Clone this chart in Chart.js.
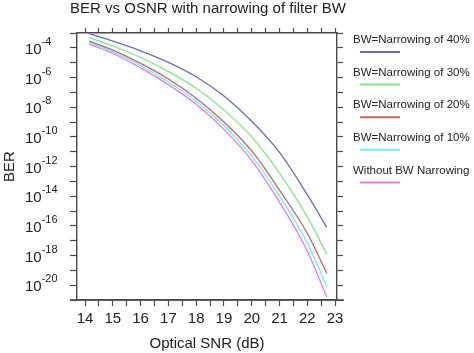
<!DOCTYPE html>
<html lang="en">
<head>
  <meta charset="UTF-8">
  <title>BER vs OSNR</title>
  <script src="https://cdn.jsdelivr.net/npm/chart.js@4.4.0/dist/chart.umd.min.js"></script>
  <style>
    html, body { margin: 0; padding: 0; background: #fff; }
    .chart-box { width: 474px; height: 353px; }
  </style>
</head>
<body>
  <div class="chart-box"><canvas id="berChart" width="474" height="353"></canvas></div>

  <script>
    // optical SNR (dB) sample points
    const osnr = [14.15, 15, 16, 17, 18, 19, 20, 21, 22, 22.7];

    // log10(BER)
    const logBer40 = [-3.05, -3.55, -4.2, -4.98, -5.95, -7.25, -8.95, -11.05, -13.9, -16.1];
    const logBer30 = [-3.3, -3.88, -4.65, -5.6, -6.72, -8.2, -10.0, -12.45, -15.4, -17.9];
    const logBer20 = [-3.55, -4.15, -5.05, -6.1, -7.4, -9.0, -10.95, -13.6, -16.5, -19.2];
    const logBer10 = [-3.65, -4.27, -5.2, -6.3, -7.6, -9.25, -11.3, -14.0, -17.15, -20.1];
    const logBer0  = [-3.75, -4.38, -5.35, -6.48, -7.8, -9.5, -11.6, -14.4, -17.7, -20.8];

    const seriesLabels = ['BW=Narrowing of 40%', 'BW=Narrowing of 30%', 'BW=Narrowing of 20%', 'BW=Narrowing of 10%', 'Without BW Narrowing'];
    const seriesColors = ['#6b6bbd', '#86e486', '#c46464', '#72f0ee', '#e27ee4'];

    const xTicks = [14, 15, 16, 17, 18, 19, 20, 21, 22, 23];
    const yTickExps = [-4, -6, -8, -10, -12, -14, -16, -18, -20];
    const yDecades = [-3, -4, -5, -6, -7, -8, -9, -10, -11, -12, -13, -14, -15, -16, -17, -18, -19, -20, -21];

    const FONT = "'Liberation Sans', Arial, sans-serif";
    const AXIS = '#4a4a4a';

    const xMarks = xTicks.flatMap((v, i) => i < xTicks.length - 1 ? [v, v + 0.5] : [v]);
    const logSeries = [logBer40, logBer30, logBer20, logBer10, logBer0];

    const datasets = logSeries.map((s, i) => ({
      label: seriesLabels[i],
      data: osnr.map((x, j) => ({ x: x, y: Math.pow(10, s[j]) })),
      borderColor: seriesColors[i],
      borderWidth: 1.3,
      pointRadius: 0,
      cubicInterpolationMode: 'monotone',
      fill: false
    }));

    const xRange = { min: 13.71, max: 23.07 };
    const yRange = { min: 1e-21, max: 1e-3 };

    const setXMarks = s => { s.ticks = xMarks.map(v => ({ value: v })); };
    const setYMarks = s => { s.ticks = yDecades.map(e => ({ value: Math.pow(10, e) })); };

    const decor = {
      id: 'decor',
      afterDraw(chart) {
        const ctx = chart.ctx;
        const ys = chart.scales.y;
        const area = chart.chartArea;
        ctx.save();

        // bottom axis line runs a little past the frame corners
        ctx.strokeStyle = AXIS;
        ctx.lineWidth = 1.4;
        ctx.beginPath();
        ctx.moveTo(area.left - 7, area.bottom);
        ctx.lineTo(area.right + 7, area.bottom);
        ctx.stroke();

        ctx.fillStyle = '#222';

        // title
        ctx.font = '15px ' + FONT;
        ctx.textAlign = 'center';
        ctx.textBaseline = 'alphabetic';
        ctx.fillText('BER vs OSNR with narrowing of filter BW', 208, 13);

        // y tick labels 10^n
        ctx.textAlign = 'left';
        yTickExps.forEach(e => {
          const py = ys.getPixelForValue(Math.pow(10, e));
          ctx.font = '15px ' + FONT;
          ctx.fillText('10', 25, py + 6);
          const w = ctx.measureText('10').width;
          ctx.font = '11px ' + FONT;
          ctx.fillText(String(e), 25 + w, py - 3);
        });

        // legend: text with a short line under it
        ctx.font = '11.5px ' + FONT;
        ctx.textBaseline = 'middle';
        chart.data.datasets.forEach((ds, i) => {
          const ty = 40 + i * 32.6;
          ctx.fillStyle = '#222';
          ctx.fillText(ds.label, 353, ty);
          ctx.strokeStyle = ds.borderColor;
          ctx.lineWidth = 2;
          ctx.beginPath();
          ctx.moveTo(360, ty + 12);
          ctx.lineTo(400, ty + 12);
          ctx.stroke();
        });
        ctx.restore();
      }
    };

    new Chart(document.getElementById('berChart'), {
      type: 'line',
      data: { datasets: datasets },
      options: {
        responsive: false,
        animation: false,
        layout: { padding: 0 },
        plugins: {
          legend: { display: false },
          title: { display: false },
          tooltip: { enabled: false }
        },
        scales: {
          x: {
            type: 'linear',
            position: 'bottom',
            min: xRange.min, max: xRange.max,
            afterBuildTicks: setXMarks,
            afterFit: s => { s.height = 53; },
            ticks: {
              autoSkip: false, maxRotation: 0, padding: 4,
              color: '#222', font: { family: FONT, size: 15 },
              callback: v => Number.isInteger(v) ? String(v) : ''
            },
            grid: { drawOnChartArea: false, tickLength: 6, color: AXIS, tickWidth: 1.2 },
            border: { color: AXIS, width: 1.4 },
            title: {
              display: true, text: 'Optical SNR (dB)', color: '#222',
              font: { family: FONT, size: 15 }, padding: { top: 0, bottom: 0 }
            }
          },
          x2: {
            type: 'linear',
            position: 'top',
            min: xRange.min, max: xRange.max,
            afterBuildTicks: setXMarks,
            afterFit: s => { s.height = 33; },
            ticks: { display: false },
            grid: { drawOnChartArea: false, tickLength: 5, color: AXIS, tickWidth: 1.2 },
            border: { color: AXIS, width: 1.4 }
          },
          y: {
            type: 'logarithmic',
            position: 'left',
            min: yRange.min, max: yRange.max,
            afterBuildTicks: setYMarks,
            afterFit: s => { s.width = 77; },
            ticks: { autoSkip: false, callback: () => '' },
            grid: { drawOnChartArea: false, tickLength: 7, color: AXIS, tickWidth: 1.2 },
            border: { color: AXIS, width: 1.4 },
            title: {
              display: true, text: 'BER', color: '#222',
              font: { family: FONT, size: 15 }, padding: { top: 1, bottom: 0 }
            }
          },
          y2: {
            type: 'logarithmic',
            position: 'right',
            min: yRange.min, max: yRange.max,
            afterBuildTicks: setYMarks,
            afterFit: s => { s.width = 137; },
            ticks: { display: false },
            grid: { drawOnChartArea: false, tickLength: 6, color: AXIS, tickWidth: 1.2 },
            border: { color: AXIS, width: 1.4 }
          }
        }
      },
      plugins: [decor]
    });
  </script>
</body>
</html>
